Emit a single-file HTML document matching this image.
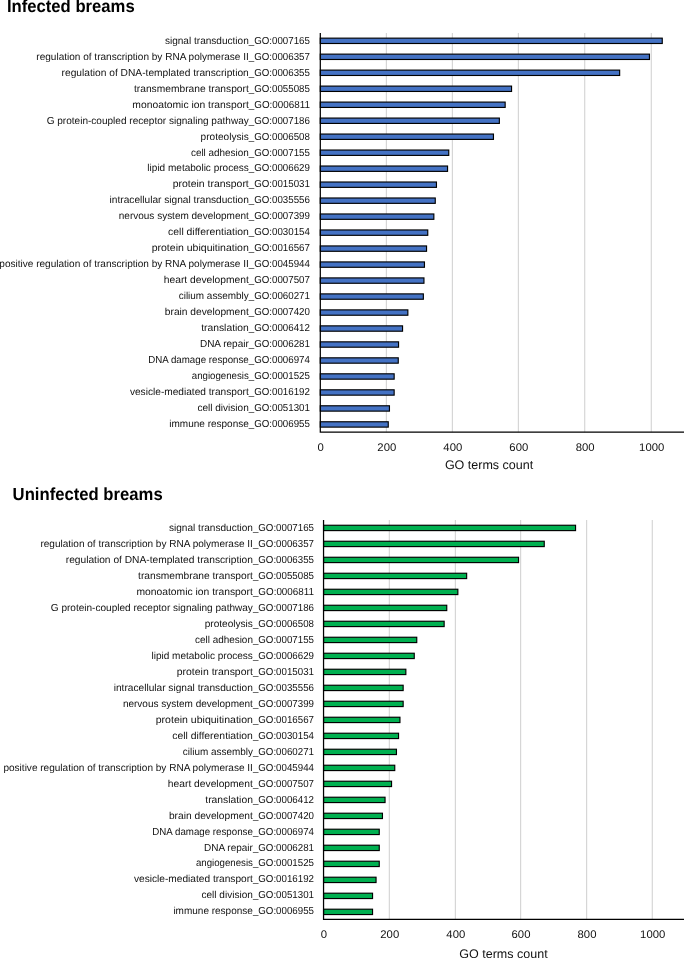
<!DOCTYPE html>
<html lang="en"><head><meta charset="utf-8"><title>GO terms count</title>
<style>
html,body{margin:0;padding:0;background:#fff;}
body{width:685px;height:958px;overflow:hidden;}
svg{display:block;font-family:"Liberation Sans",sans-serif;fill:#111;text-rendering:geometricPrecision;}
.lb text{font-size:10.2px;}
.tk text{font-size:11.1px;}
.at{font-size:12.5px;}
.ti{font-size:17.5px;font-weight:bold;fill:#000;}
</style></head><body>
<svg width="685" height="958" viewBox="0 0 685 958">
<rect width="685" height="958" fill="#fff"/>
<text class="ti" x="6.9" y="12.4" textLength="127.82" lengthAdjust="spacingAndGlyphs">Infected breams</text>
<line x1="386.4" y1="32.9" x2="386.4" y2="432.2" stroke="#d6d6d6" stroke-width="1.2"/>
<line x1="452.4" y1="32.9" x2="452.4" y2="432.2" stroke="#d6d6d6" stroke-width="1.2"/>
<line x1="518.4" y1="32.9" x2="518.4" y2="432.2" stroke="#d6d6d6" stroke-width="1.2"/>
<line x1="584.7" y1="32.9" x2="584.7" y2="432.2" stroke="#d6d6d6" stroke-width="1.2"/>
<line x1="651.3" y1="32.9" x2="651.3" y2="432.2" stroke="#d6d6d6" stroke-width="1.2"/>
<rect x="320.3" y="38.15" width="341.95" height="5.35" fill="#4472c4" stroke="#000" stroke-width="1.15"/>
<rect x="320.3" y="54.13" width="329.15" height="5.35" fill="#4472c4" stroke="#000" stroke-width="1.15"/>
<rect x="320.3" y="70.12" width="299.35" height="5.35" fill="#4472c4" stroke="#000" stroke-width="1.15"/>
<rect x="320.3" y="86.10" width="191.25" height="5.35" fill="#4472c4" stroke="#000" stroke-width="1.15"/>
<rect x="320.3" y="102.09" width="184.85" height="5.35" fill="#4472c4" stroke="#000" stroke-width="1.15"/>
<rect x="320.3" y="118.07" width="179.05" height="5.35" fill="#4472c4" stroke="#000" stroke-width="1.15"/>
<rect x="320.3" y="134.05" width="173.15" height="5.35" fill="#4472c4" stroke="#000" stroke-width="1.15"/>
<rect x="320.3" y="150.04" width="128.45" height="5.35" fill="#4472c4" stroke="#000" stroke-width="1.15"/>
<rect x="320.3" y="166.02" width="127.25" height="5.35" fill="#4472c4" stroke="#000" stroke-width="1.15"/>
<rect x="320.3" y="182.01" width="116.15" height="5.35" fill="#4472c4" stroke="#000" stroke-width="1.15"/>
<rect x="320.3" y="197.99" width="114.95" height="5.35" fill="#4472c4" stroke="#000" stroke-width="1.15"/>
<rect x="320.3" y="213.97" width="113.55" height="5.35" fill="#4472c4" stroke="#000" stroke-width="1.15"/>
<rect x="320.3" y="229.96" width="107.45" height="5.35" fill="#4472c4" stroke="#000" stroke-width="1.15"/>
<rect x="320.3" y="245.94" width="106.25" height="5.35" fill="#4472c4" stroke="#000" stroke-width="1.15"/>
<rect x="320.3" y="261.93" width="104.15" height="5.35" fill="#4472c4" stroke="#000" stroke-width="1.15"/>
<rect x="320.3" y="277.91" width="103.65" height="5.35" fill="#4472c4" stroke="#000" stroke-width="1.15"/>
<rect x="320.3" y="293.89" width="103.05" height="5.35" fill="#4472c4" stroke="#000" stroke-width="1.15"/>
<rect x="320.3" y="309.88" width="87.55" height="5.35" fill="#4472c4" stroke="#000" stroke-width="1.15"/>
<rect x="320.3" y="325.86" width="82.25" height="5.35" fill="#4472c4" stroke="#000" stroke-width="1.15"/>
<rect x="320.3" y="341.85" width="78.25" height="5.35" fill="#4472c4" stroke="#000" stroke-width="1.15"/>
<rect x="320.3" y="357.83" width="77.95" height="5.35" fill="#4472c4" stroke="#000" stroke-width="1.15"/>
<rect x="320.3" y="373.81" width="73.85" height="5.35" fill="#4472c4" stroke="#000" stroke-width="1.15"/>
<rect x="320.3" y="389.80" width="73.85" height="5.35" fill="#4472c4" stroke="#000" stroke-width="1.15"/>
<rect x="320.3" y="405.78" width="69.15" height="5.35" fill="#4472c4" stroke="#000" stroke-width="1.15"/>
<rect x="320.3" y="421.77" width="67.95" height="5.35" fill="#4472c4" stroke="#000" stroke-width="1.15"/>
<path d="M320.3 32.9V432.2H684" fill="none" stroke="#000" stroke-width="1.25"/>
<g class="lb">
<text x="164.93" y="43.90"><tspan textLength="83.86" lengthAdjust="spacingAndGlyphs">signal transduction</tspan><tspan x="248.79" textLength="61.11" lengthAdjust="spacingAndGlyphs">_GO:0007165</tspan></text>
<text x="36.36" y="59.85"><tspan textLength="212.43" lengthAdjust="spacingAndGlyphs">regulation of transcription by RNA polymerase II</tspan><tspan x="248.79" textLength="61.11" lengthAdjust="spacingAndGlyphs">_GO:0006357</tspan></text>
<text x="61.64" y="75.79"><tspan textLength="187.15" lengthAdjust="spacingAndGlyphs">regulation of DNA-templated transcription</tspan><tspan x="248.79" textLength="61.11" lengthAdjust="spacingAndGlyphs">_GO:0006355</tspan></text>
<text x="134.01" y="91.74"><tspan textLength="114.78" lengthAdjust="spacingAndGlyphs">transmembrane transport</tspan><tspan x="248.79" textLength="61.11" lengthAdjust="spacingAndGlyphs">_GO:0055085</tspan></text>
<text x="132.36" y="107.68"><tspan textLength="116.43" lengthAdjust="spacingAndGlyphs">monoatomic ion transport</tspan><tspan x="248.79" textLength="61.11" lengthAdjust="spacingAndGlyphs">_GO:0006811</tspan></text>
<text x="46.70" y="123.63"><tspan textLength="202.09" lengthAdjust="spacingAndGlyphs">G protein-coupled receptor signaling pathway</tspan><tspan x="248.79" textLength="61.11" lengthAdjust="spacingAndGlyphs">_GO:0007186</tspan></text>
<text x="200.62" y="139.58"><tspan textLength="48.17" lengthAdjust="spacingAndGlyphs">proteolysis</tspan><tspan x="248.79" textLength="61.11" lengthAdjust="spacingAndGlyphs">_GO:0006508</tspan></text>
<text x="190.95" y="155.52"><tspan textLength="57.84" lengthAdjust="spacingAndGlyphs">cell adhesion</tspan><tspan x="248.79" textLength="61.11" lengthAdjust="spacingAndGlyphs">_GO:0007155</tspan></text>
<text x="147.35" y="171.47"><tspan textLength="101.44" lengthAdjust="spacingAndGlyphs">lipid metabolic process</tspan><tspan x="248.79" textLength="61.11" lengthAdjust="spacingAndGlyphs">_GO:0006629</tspan></text>
<text x="172.67" y="187.41"><tspan textLength="76.11" lengthAdjust="spacingAndGlyphs">protein transport</tspan><tspan x="248.79" textLength="61.11" lengthAdjust="spacingAndGlyphs">_GO:0015031</tspan></text>
<text x="109.61" y="203.36"><tspan textLength="139.18" lengthAdjust="spacingAndGlyphs">intracellular signal transduction</tspan><tspan x="248.79" textLength="61.11" lengthAdjust="spacingAndGlyphs">_GO:0035556</tspan></text>
<text x="118.82" y="219.31"><tspan textLength="129.97" lengthAdjust="spacingAndGlyphs">nervous system development</tspan><tspan x="248.79" textLength="61.11" lengthAdjust="spacingAndGlyphs">_GO:0007399</tspan></text>
<text x="168.10" y="235.25"><tspan textLength="80.69" lengthAdjust="spacingAndGlyphs">cell differentiation</tspan><tspan x="248.79" textLength="61.11" lengthAdjust="spacingAndGlyphs">_GO:0030154</tspan></text>
<text x="151.66" y="251.20"><tspan textLength="97.13" lengthAdjust="spacingAndGlyphs">protein ubiquitination</tspan><tspan x="248.79" textLength="61.11" lengthAdjust="spacingAndGlyphs">_GO:0016567</tspan></text>
<text x="-0.66" y="267.14"><tspan textLength="249.44" lengthAdjust="spacingAndGlyphs">positive regulation of transcription by RNA polymerase II</tspan><tspan x="248.79" textLength="61.11" lengthAdjust="spacingAndGlyphs">_GO:0045944</tspan></text>
<text x="163.78" y="283.09"><tspan textLength="85.01" lengthAdjust="spacingAndGlyphs">heart development</tspan><tspan x="248.79" textLength="61.11" lengthAdjust="spacingAndGlyphs">_GO:0007507</tspan></text>
<text x="178.74" y="299.04"><tspan textLength="70.05" lengthAdjust="spacingAndGlyphs">cilium assembly</tspan><tspan x="248.79" textLength="61.11" lengthAdjust="spacingAndGlyphs">_GO:0060271</tspan></text>
<text x="164.85" y="314.98"><tspan textLength="83.94" lengthAdjust="spacingAndGlyphs">brain development</tspan><tspan x="248.79" textLength="61.11" lengthAdjust="spacingAndGlyphs">_GO:0007420</tspan></text>
<text x="201.18" y="330.93"><tspan textLength="47.61" lengthAdjust="spacingAndGlyphs">translation</tspan><tspan x="248.79" textLength="61.11" lengthAdjust="spacingAndGlyphs">_GO:0006412</tspan></text>
<text x="199.94" y="346.87"><tspan textLength="48.84" lengthAdjust="spacingAndGlyphs">DNA repair</tspan><tspan x="248.79" textLength="61.11" lengthAdjust="spacingAndGlyphs">_GO:0006281</tspan></text>
<text x="148.24" y="362.82"><tspan textLength="100.55" lengthAdjust="spacingAndGlyphs">DNA damage response</tspan><tspan x="248.79" textLength="61.11" lengthAdjust="spacingAndGlyphs">_GO:0006974</tspan></text>
<text x="191.82" y="378.77"><tspan textLength="56.97" lengthAdjust="spacingAndGlyphs">angiogenesis</tspan><tspan x="248.79" textLength="61.11" lengthAdjust="spacingAndGlyphs">_GO:0001525</tspan></text>
<text x="129.92" y="394.71"><tspan textLength="118.87" lengthAdjust="spacingAndGlyphs">vesicle-mediated transport</tspan><tspan x="248.79" textLength="61.11" lengthAdjust="spacingAndGlyphs">_GO:0016192</tspan></text>
<text x="197.40" y="410.66"><tspan textLength="51.39" lengthAdjust="spacingAndGlyphs">cell division</tspan><tspan x="248.79" textLength="61.11" lengthAdjust="spacingAndGlyphs">_GO:0051301</tspan></text>
<text x="169.30" y="426.60"><tspan textLength="79.49" lengthAdjust="spacingAndGlyphs">immune response</tspan><tspan x="248.79" textLength="61.11" lengthAdjust="spacingAndGlyphs">_GO:0006955</tspan></text>
</g><g class="tk">
<text x="317.56" y="450.6" textLength="6.29" lengthAdjust="spacingAndGlyphs">0</text>
<text x="377.37" y="450.6" textLength="18.86" lengthAdjust="spacingAndGlyphs">200</text>
<text x="443.37" y="450.6" textLength="18.86" lengthAdjust="spacingAndGlyphs">400</text>
<text x="509.37" y="450.6" textLength="18.86" lengthAdjust="spacingAndGlyphs">600</text>
<text x="575.67" y="450.6" textLength="18.86" lengthAdjust="spacingAndGlyphs">800</text>
<text x="639.13" y="450.6" textLength="25.14" lengthAdjust="spacingAndGlyphs">1000</text>
</g>
<text class="at" x="444.9" y="468.5" textLength="88.33" lengthAdjust="spacingAndGlyphs">GO terms count</text>
<text class="ti" x="12.6" y="499.6" textLength="150.08" lengthAdjust="spacingAndGlyphs">Uninfected breams</text>
<line x1="389.35" y1="520.0" x2="389.35" y2="919.3" stroke="#d6d6d6" stroke-width="1.2"/>
<line x1="455.4" y1="520.0" x2="455.4" y2="919.3" stroke="#d6d6d6" stroke-width="1.2"/>
<line x1="520.6" y1="520.0" x2="520.6" y2="919.3" stroke="#d6d6d6" stroke-width="1.2"/>
<line x1="586.6" y1="520.0" x2="586.6" y2="919.3" stroke="#d6d6d6" stroke-width="1.2"/>
<line x1="652.3" y1="520.0" x2="652.3" y2="919.3" stroke="#d6d6d6" stroke-width="1.2"/>
<rect x="323.55" y="525.25" width="252.00" height="5.35" fill="#00b050" stroke="#000" stroke-width="1.15"/>
<rect x="323.55" y="541.25" width="220.70" height="5.35" fill="#00b050" stroke="#000" stroke-width="1.15"/>
<rect x="323.55" y="557.25" width="195.00" height="5.35" fill="#00b050" stroke="#000" stroke-width="1.15"/>
<rect x="323.55" y="573.24" width="143.10" height="5.35" fill="#00b050" stroke="#000" stroke-width="1.15"/>
<rect x="323.55" y="589.24" width="134.30" height="5.35" fill="#00b050" stroke="#000" stroke-width="1.15"/>
<rect x="323.55" y="605.24" width="123.20" height="5.35" fill="#00b050" stroke="#000" stroke-width="1.15"/>
<rect x="323.55" y="621.24" width="120.60" height="5.35" fill="#00b050" stroke="#000" stroke-width="1.15"/>
<rect x="323.55" y="637.24" width="93.20" height="5.35" fill="#00b050" stroke="#000" stroke-width="1.15"/>
<rect x="323.55" y="653.23" width="90.70" height="5.35" fill="#00b050" stroke="#000" stroke-width="1.15"/>
<rect x="323.55" y="669.23" width="82.30" height="5.35" fill="#00b050" stroke="#000" stroke-width="1.15"/>
<rect x="323.55" y="685.23" width="79.60" height="5.35" fill="#00b050" stroke="#000" stroke-width="1.15"/>
<rect x="323.55" y="701.23" width="79.60" height="5.35" fill="#00b050" stroke="#000" stroke-width="1.15"/>
<rect x="323.55" y="717.23" width="76.40" height="5.35" fill="#00b050" stroke="#000" stroke-width="1.15"/>
<rect x="323.55" y="733.22" width="75.00" height="5.35" fill="#00b050" stroke="#000" stroke-width="1.15"/>
<rect x="323.55" y="749.22" width="72.90" height="5.35" fill="#00b050" stroke="#000" stroke-width="1.15"/>
<rect x="323.55" y="765.22" width="71.20" height="5.35" fill="#00b050" stroke="#000" stroke-width="1.15"/>
<rect x="323.55" y="781.22" width="68.00" height="5.35" fill="#00b050" stroke="#000" stroke-width="1.15"/>
<rect x="323.55" y="797.22" width="61.50" height="5.35" fill="#00b050" stroke="#000" stroke-width="1.15"/>
<rect x="323.55" y="813.21" width="58.90" height="5.35" fill="#00b050" stroke="#000" stroke-width="1.15"/>
<rect x="323.55" y="829.21" width="55.70" height="5.35" fill="#00b050" stroke="#000" stroke-width="1.15"/>
<rect x="323.55" y="845.21" width="55.70" height="5.35" fill="#00b050" stroke="#000" stroke-width="1.15"/>
<rect x="323.55" y="861.21" width="55.70" height="5.35" fill="#00b050" stroke="#000" stroke-width="1.15"/>
<rect x="323.55" y="877.21" width="52.50" height="5.35" fill="#00b050" stroke="#000" stroke-width="1.15"/>
<rect x="323.55" y="893.20" width="49.00" height="5.35" fill="#00b050" stroke="#000" stroke-width="1.15"/>
<rect x="323.55" y="909.20" width="49.00" height="5.35" fill="#00b050" stroke="#000" stroke-width="1.15"/>
<path d="M323.55 520.0V919.3H684" fill="none" stroke="#000" stroke-width="1.25"/>
<g class="lb">
<text x="169.03" y="531.20"><tspan textLength="83.86" lengthAdjust="spacingAndGlyphs">signal transduction</tspan><tspan x="252.89" textLength="61.11" lengthAdjust="spacingAndGlyphs">_GO:0007165</tspan></text>
<text x="40.46" y="547.17"><tspan textLength="212.43" lengthAdjust="spacingAndGlyphs">regulation of transcription by RNA polymerase II</tspan><tspan x="252.89" textLength="61.11" lengthAdjust="spacingAndGlyphs">_GO:0006357</tspan></text>
<text x="65.74" y="563.13"><tspan textLength="187.15" lengthAdjust="spacingAndGlyphs">regulation of DNA-templated transcription</tspan><tspan x="252.89" textLength="61.11" lengthAdjust="spacingAndGlyphs">_GO:0006355</tspan></text>
<text x="138.11" y="579.10"><tspan textLength="114.78" lengthAdjust="spacingAndGlyphs">transmembrane transport</tspan><tspan x="252.89" textLength="61.11" lengthAdjust="spacingAndGlyphs">_GO:0055085</tspan></text>
<text x="136.46" y="595.06"><tspan textLength="116.43" lengthAdjust="spacingAndGlyphs">monoatomic ion transport</tspan><tspan x="252.89" textLength="61.11" lengthAdjust="spacingAndGlyphs">_GO:0006811</tspan></text>
<text x="50.80" y="611.03"><tspan textLength="202.09" lengthAdjust="spacingAndGlyphs">G protein-coupled receptor signaling pathway</tspan><tspan x="252.89" textLength="61.11" lengthAdjust="spacingAndGlyphs">_GO:0007186</tspan></text>
<text x="204.72" y="626.99"><tspan textLength="48.17" lengthAdjust="spacingAndGlyphs">proteolysis</tspan><tspan x="252.89" textLength="61.11" lengthAdjust="spacingAndGlyphs">_GO:0006508</tspan></text>
<text x="195.05" y="642.96"><tspan textLength="57.84" lengthAdjust="spacingAndGlyphs">cell adhesion</tspan><tspan x="252.89" textLength="61.11" lengthAdjust="spacingAndGlyphs">_GO:0007155</tspan></text>
<text x="151.45" y="658.92"><tspan textLength="101.44" lengthAdjust="spacingAndGlyphs">lipid metabolic process</tspan><tspan x="252.89" textLength="61.11" lengthAdjust="spacingAndGlyphs">_GO:0006629</tspan></text>
<text x="176.77" y="674.88"><tspan textLength="76.11" lengthAdjust="spacingAndGlyphs">protein transport</tspan><tspan x="252.89" textLength="61.11" lengthAdjust="spacingAndGlyphs">_GO:0015031</tspan></text>
<text x="113.71" y="690.85"><tspan textLength="139.18" lengthAdjust="spacingAndGlyphs">intracellular signal transduction</tspan><tspan x="252.89" textLength="61.11" lengthAdjust="spacingAndGlyphs">_GO:0035556</tspan></text>
<text x="122.92" y="706.82"><tspan textLength="129.97" lengthAdjust="spacingAndGlyphs">nervous system development</tspan><tspan x="252.89" textLength="61.11" lengthAdjust="spacingAndGlyphs">_GO:0007399</tspan></text>
<text x="155.76" y="722.78"><tspan textLength="97.13" lengthAdjust="spacingAndGlyphs">protein ubiquitination</tspan><tspan x="252.89" textLength="61.11" lengthAdjust="spacingAndGlyphs">_GO:0016567</tspan></text>
<text x="172.20" y="738.75"><tspan textLength="80.69" lengthAdjust="spacingAndGlyphs">cell differentiation</tspan><tspan x="252.89" textLength="61.11" lengthAdjust="spacingAndGlyphs">_GO:0030154</tspan></text>
<text x="182.84" y="754.71"><tspan textLength="70.05" lengthAdjust="spacingAndGlyphs">cilium assembly</tspan><tspan x="252.89" textLength="61.11" lengthAdjust="spacingAndGlyphs">_GO:0060271</tspan></text>
<text x="3.44" y="770.68"><tspan textLength="249.44" lengthAdjust="spacingAndGlyphs">positive regulation of transcription by RNA polymerase II</tspan><tspan x="252.89" textLength="61.11" lengthAdjust="spacingAndGlyphs">_GO:0045944</tspan></text>
<text x="167.88" y="786.64"><tspan textLength="85.01" lengthAdjust="spacingAndGlyphs">heart development</tspan><tspan x="252.89" textLength="61.11" lengthAdjust="spacingAndGlyphs">_GO:0007507</tspan></text>
<text x="205.28" y="802.61"><tspan textLength="47.61" lengthAdjust="spacingAndGlyphs">translation</tspan><tspan x="252.89" textLength="61.11" lengthAdjust="spacingAndGlyphs">_GO:0006412</tspan></text>
<text x="168.95" y="818.57"><tspan textLength="83.94" lengthAdjust="spacingAndGlyphs">brain development</tspan><tspan x="252.89" textLength="61.11" lengthAdjust="spacingAndGlyphs">_GO:0007420</tspan></text>
<text x="152.34" y="834.54"><tspan textLength="100.55" lengthAdjust="spacingAndGlyphs">DNA damage response</tspan><tspan x="252.89" textLength="61.11" lengthAdjust="spacingAndGlyphs">_GO:0006974</tspan></text>
<text x="204.04" y="850.50"><tspan textLength="48.84" lengthAdjust="spacingAndGlyphs">DNA repair</tspan><tspan x="252.89" textLength="61.11" lengthAdjust="spacingAndGlyphs">_GO:0006281</tspan></text>
<text x="195.92" y="866.47"><tspan textLength="56.97" lengthAdjust="spacingAndGlyphs">angiogenesis</tspan><tspan x="252.89" textLength="61.11" lengthAdjust="spacingAndGlyphs">_GO:0001525</tspan></text>
<text x="134.02" y="882.43"><tspan textLength="118.87" lengthAdjust="spacingAndGlyphs">vesicle-mediated transport</tspan><tspan x="252.89" textLength="61.11" lengthAdjust="spacingAndGlyphs">_GO:0016192</tspan></text>
<text x="201.50" y="898.39"><tspan textLength="51.39" lengthAdjust="spacingAndGlyphs">cell division</tspan><tspan x="252.89" textLength="61.11" lengthAdjust="spacingAndGlyphs">_GO:0051301</tspan></text>
<text x="173.40" y="914.36"><tspan textLength="79.49" lengthAdjust="spacingAndGlyphs">immune response</tspan><tspan x="252.89" textLength="61.11" lengthAdjust="spacingAndGlyphs">_GO:0006955</tspan></text>
</g><g class="tk">
<text x="320.81" y="938.1" textLength="6.29" lengthAdjust="spacingAndGlyphs">0</text>
<text x="380.32" y="938.1" textLength="18.86" lengthAdjust="spacingAndGlyphs">200</text>
<text x="446.37" y="938.1" textLength="18.86" lengthAdjust="spacingAndGlyphs">400</text>
<text x="511.57" y="938.1" textLength="18.86" lengthAdjust="spacingAndGlyphs">600</text>
<text x="577.57" y="938.1" textLength="18.86" lengthAdjust="spacingAndGlyphs">800</text>
<text x="640.13" y="938.1" textLength="25.14" lengthAdjust="spacingAndGlyphs">1000</text>
</g>
<text class="at" x="459.3" y="958.4" textLength="88.33" lengthAdjust="spacingAndGlyphs">GO terms count</text>
</svg>
</body></html>
